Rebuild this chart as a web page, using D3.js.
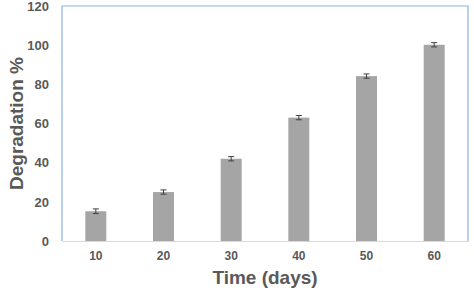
<!DOCTYPE html>
<html>
<head>
<meta charset="utf-8">
<script src="https://cdn.jsdelivr.net/npm/d3@7"></script>
<style>
  body { margin: 0; background: #fff; }
  text { font-family: "Liberation Sans", Arial, sans-serif; font-weight: bold; fill: #595959; }
</style>
</head>
<body>
<svg id="chart" width="474" height="291"></svg>
<script>
// data
const days = ["10", "20", "30", "40", "50", "60"];
const degradation = [15.2, 25, 42, 63, 84.2, 100.2];
const errors = [1.2, 1.1, 1.1, 1.1, 1.1, 1.1];
const yTicks = [0, 20, 40, 60, 80, 100, 120];

const svg = d3.select("#chart");
const margin = {left: 62, top: 6, right: 6, bottom: 50};
const width = 474 - margin.left - margin.right;
const height = 291 - margin.top - margin.bottom;

const g = svg.append("g").attr("transform", `translate(${margin.left},${margin.top})`);

const x = d3.scaleBand().domain(days).range([0, width]).paddingInner(0.69).paddingOuter(0.345);
const y = d3.scaleLinear().domain([0, 120]).range([height, 0]);

// plot area border (blue on left/top/right)
g.append("path")
  .attr("d", `M0,${height}V0H${width}V${height}`)
  .attr("fill", "none")
  .attr("stroke", "#8db3e2")
  .attr("stroke-width", 1.2);

// bars
g.selectAll("rect.bar")
  .data(days)
  .join("rect")
    .attr("class", "bar")
    .attr("x", d => x(d))
    .attr("width", x.bandwidth())
    .attr("y", (d, i) => y(degradation[i]))
    .attr("height", (d, i) => height - y(degradation[i]))
    .attr("fill", "#a5a5a5");

// error bars
const eb = g.selectAll("g.err")
  .data(days)
  .join("g")
    .attr("class", "err")
    .attr("transform", d => `translate(${x(d) + x.bandwidth() / 2},0)`)
    .attr("stroke", "#404040")
    .attr("stroke-width", 1);
eb.append("line")
  .attr("y1", (d, i) => y(degradation[i] + errors[i]))
  .attr("y2", (d, i) => y(degradation[i] - errors[i]));
eb.append("line").attr("x1", -3).attr("x2", 3)
  .attr("y1", (d, i) => y(degradation[i] + errors[i]))
  .attr("y2", (d, i) => y(degradation[i] + errors[i]));
eb.append("line").attr("x1", -3).attr("x2", 3)
  .attr("y1", (d, i) => y(degradation[i] - errors[i]))
  .attr("y2", (d, i) => y(degradation[i] - errors[i]));

// x axis
const xAxis = g.append("g")
  .attr("transform", `translate(0,${height})`)
  .call(d3.axisBottom(x).tickSize(0).tickPadding(10));
xAxis.select(".domain").attr("stroke", "#d9d9d9").attr("stroke-width", 1.2);
xAxis.selectAll("text").style("font-size", "12px").attr("fill", "#595959").style("font-family", "Liberation Sans, Arial, sans-serif").style("font-weight", "bold");

// y axis
const yAxis = g.append("g")
  .call(d3.axisLeft(y).tickValues(yTicks).tickSize(0).tickPadding(13));
yAxis.select(".domain").remove();
yAxis.selectAll("text").style("font-size", "13px").attr("fill", "#595959").style("font-family", "Liberation Sans, Arial, sans-serif").style("font-weight", "bold");

// axis titles
svg.append("text")
  .attr("x", margin.left + width / 2)
  .attr("y", 284)
  .attr("text-anchor", "middle")
  .style("font-size", "19px")
  .text("Time (days)");

svg.append("text")
  .attr("transform", `translate(23,${margin.top + height / 2}) rotate(-90)`)
  .attr("text-anchor", "middle")
  .style("font-size", "19px")
  .text("Degradation %");
</script>
</body>
</html>
